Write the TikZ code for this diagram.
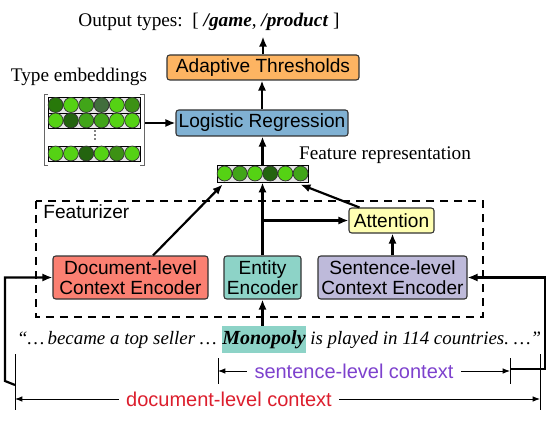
\documentclass[tikz,border=0pt]{standalone}
\usepackage{fontspec}
\setmainfont{Liberation Serif}
\setsansfont{Liberation Sans}
\usetikzlibrary{calc,arrows.meta}

\definecolor{setOrange}{HTML}{FDB462}
\definecolor{setBlue}{HTML}{80B1D3}
\definecolor{setRed}{HTML}{FB8072}
\definecolor{setTeal}{HTML}{8DD3C7}
\definecolor{setLila}{HTML}{BEBADA}
\definecolor{setYellow}{HTML}{FFFFB3}
\definecolor{ctxPurple}{RGB}{125,65,205}
\definecolor{ctxRed}{RGB}{220,30,45}
\definecolor{gA}{RGB}{40,120,10}
\definecolor{gB}{RGB}{85,210,20}
\definecolor{gC}{RGB}{65,165,25}
\definecolor{gD}{RGB}{65,110,60}
\definecolor{gE}{RGB}{35,100,15}
\definecolor{gF}{RGB}{60,145,20}

\tikzset{
	blk/.style={draw=black!80, line width=0.6pt, rounded corners=1.5pt, align=center, inner sep=1pt,
		font=\sffamily\fontsize{10.5}{11}\selectfont},
	lbl/.style={inner sep=1pt, font=\fontsize{10.6}{12}\selectfont},
	flow/.style={line width=1.2pt, -{Latex[length=5.5pt,width=4.5pt]}},
	span/.style={line width=0.5pt, -{Latex[length=4pt,width=3pt]}},
	tick/.style={line width=0.5pt},
	vecbox/.style={draw, line width=0.5pt, fill=black!10},
	unit/.style={draw=black!80, line width=0.4pt},
}

\begin{document}
\begin{tikzpicture}[x=0.55pt, y=-0.55pt]
		%%%%% START %%%%%
		\useasboundingbox (0,0) rectangle (555,423);
		
		\draw[line width=0.7pt, dash pattern=on 4.4pt off 3.3pt] (36,201) rectangle (483,317);
		\node[anchor=west, inner sep=0pt, font=\sffamily\fontsize{10.5}{12}\selectfont] (fzlbl) at (43,212) {Featurizer};
		
		\node[lbl] (outtypes) at (209,22) {Output types:~~[ \textbf{\textit{/game}}, \textbf{\textit{/product}} ]};
		\node[blk, fill=setOrange, minimum width=105.6pt, minimum height=13.75pt] (adapt) at (263,67.5) {Adaptive Thresholds};
		\node[blk, fill=setBlue, minimum width=94.6pt, minimum height=14.3pt] (logreg) at (262,123) {Logistic Regression};
		
		\node[lbl] (typelbl) at (79,77) {Type embeddings};
		\node[lbl] (featlbl) at (385,155) {Feature representation};
		
		% type embedding matrix
		\draw[line width=0.5pt, color=black!60] (48,94) -- (44,94) -- (44,165) -- (48,165);
		\draw[line width=0.5pt, color=black!60] (140,94) -- (144,94) -- (144,165) -- (140,165);
		\draw[vecbox] (48,97) rectangle (140,113);
		\draw[vecbox] (48,113) rectangle (140,128);
		\draw[vecbox] (48,146) rectangle (140,161);
		\foreach \c [count=\i from 0] in {gA,gB,gC,gD,gB,gF}
			\draw[unit, fill=\c] (55.65+15.3*\i,105) circle[radius=4.1pt];
		\foreach \c [count=\i from 0] in {gB,gE,gC,gC,gB,gB}
			\draw[unit, fill=\c] (55.65+15.3*\i,120.5) circle[radius=4.1pt];
		\foreach \c [count=\i from 0] in {gB,gB,gE,gB,gF,gB}
			\draw[unit, fill=\c] (55.65+15.3*\i,153.5) circle[radius=4.1pt];
		\foreach \y in {131,135,139}
			\fill (95,\y) circle[radius=0.45pt];
		\coordinate (emb) at (145,123);
		
		% feature vector
		\node[vecbox, minimum width=50pt, minimum height=9.35pt, inner sep=0pt] (feat) at (262.5,173.5) {};
		\foreach \c [count=\i from 0] in {gB,gC,gB,gE,gB,gC}
			\draw[unit, fill=\c] (224.6+15.2*\i,173.5) circle[radius=4.1pt];
		
		\node[blk, fill=setRed, minimum width=85.25pt, minimum height=23.65pt] (docenc) at (130.5,277.5) {Document-level\\Context Encoder};
		\node[blk, fill=setTeal, minimum width=42.35pt, minimum height=23.65pt] (entenc) at (262.5,277.5) {Entity\\Encoder};
		\node[blk, fill=setLila, minimum width=81.95pt, minimum height=23.65pt] (sentenc) at (392.5,277.5) {Sentence-level\\Context Encoder};
		\node[blk, fill=setYellow, minimum width=46.75pt, minimum height=13.75pt] (attn) at (391.5,220.5) {Attention};
		
		% the sentence
		\node[fill=setTeal, minimum width=46.2pt, minimum height=14.85pt, inner sep=0pt, font=\bfseries\itshape\fontsize{11}{12}\selectfont] (mono) at (264,339.5) {Monopoly};
		\node[anchor=base east, inner xsep=2.5pt, font=\itshape\fontsize{10.4}{12}\selectfont] (qleft) at (mono.base west) {“…\,became a top seller …};
		\node[anchor=base west, inner xsep=2pt, font=\itshape\fontsize{10.4}{12}\selectfont] (qright) at (mono.base east) {is played in 114 countries.\ …”};
		
		% arrows
		\draw[flow, shorten >=2pt] (adapt.north) -- (adapt.north |- outtypes.south);
		\draw[flow] (logreg.north) -- (logreg.north |- adapt.south);
		\draw[flow] (emb) -- (logreg.west);
		\draw[flow] (feat.north) -- (feat.north |- logreg.south);
		\draw[flow] ($(docenc.north)+(22.5,0)$) -- ($(feat.south west)+(6,2)$);
		\draw[flow] (entenc.north) -- (entenc.north |- feat.south);
		\draw[flow] (entenc.north |- attn.west) -- (attn.west);
		\draw[flow] ($(attn.north west)+(11,0)$) -- ($(feat.south east)+(-8,2)$);
		\draw[flow] (sentenc.north) -- (sentenc.north |- attn.south);
		\draw[flow] (entenc.south |- mono.north) -- (entenc.south);
		
		% context spans
		\node[inner xsep=4pt, font=\sffamily\fontsize{11}{12}\selectfont, text=ctxPurple] (sentctx) at (354,371) {sentence-level context};
		\node[inner xsep=4pt, font=\sffamily\fontsize{11}{12}\selectfont, text=ctxRed] (docctx) at (229,399) {document-level context};
		\coordinate (sl) at (218,371);
		\coordinate (sr) at (510,371);
		\coordinate (dl) at (15,399);
		\coordinate (dr) at (540,399);
		\draw[tick] (218,358) -- (218,384);
		\draw[tick] (510,358) -- (510,384);
		\draw[tick] (15,354) -- (15,410);
		\draw[tick] (540,354) -- (540,410);
		\draw[span] (sentctx.west) -- (sl);
		\draw[span] (sentctx.east) -- (sr);
		\draw[span] (docctx.west) -- (dl);
		\draw[span] (docctx.east) -- (dr);
		
		\coordinate (dltick) at (15,385);
		\coordinate (srtick) at (510,369);
		\draw[flow] (dltick) -- (5,381) |- (docenc.west);
		\draw[flow] (srtick) -- (545,369) |- (sentenc.east);
		
		%%%%% END %%%%%
\end{tikzpicture}
\end{document}
